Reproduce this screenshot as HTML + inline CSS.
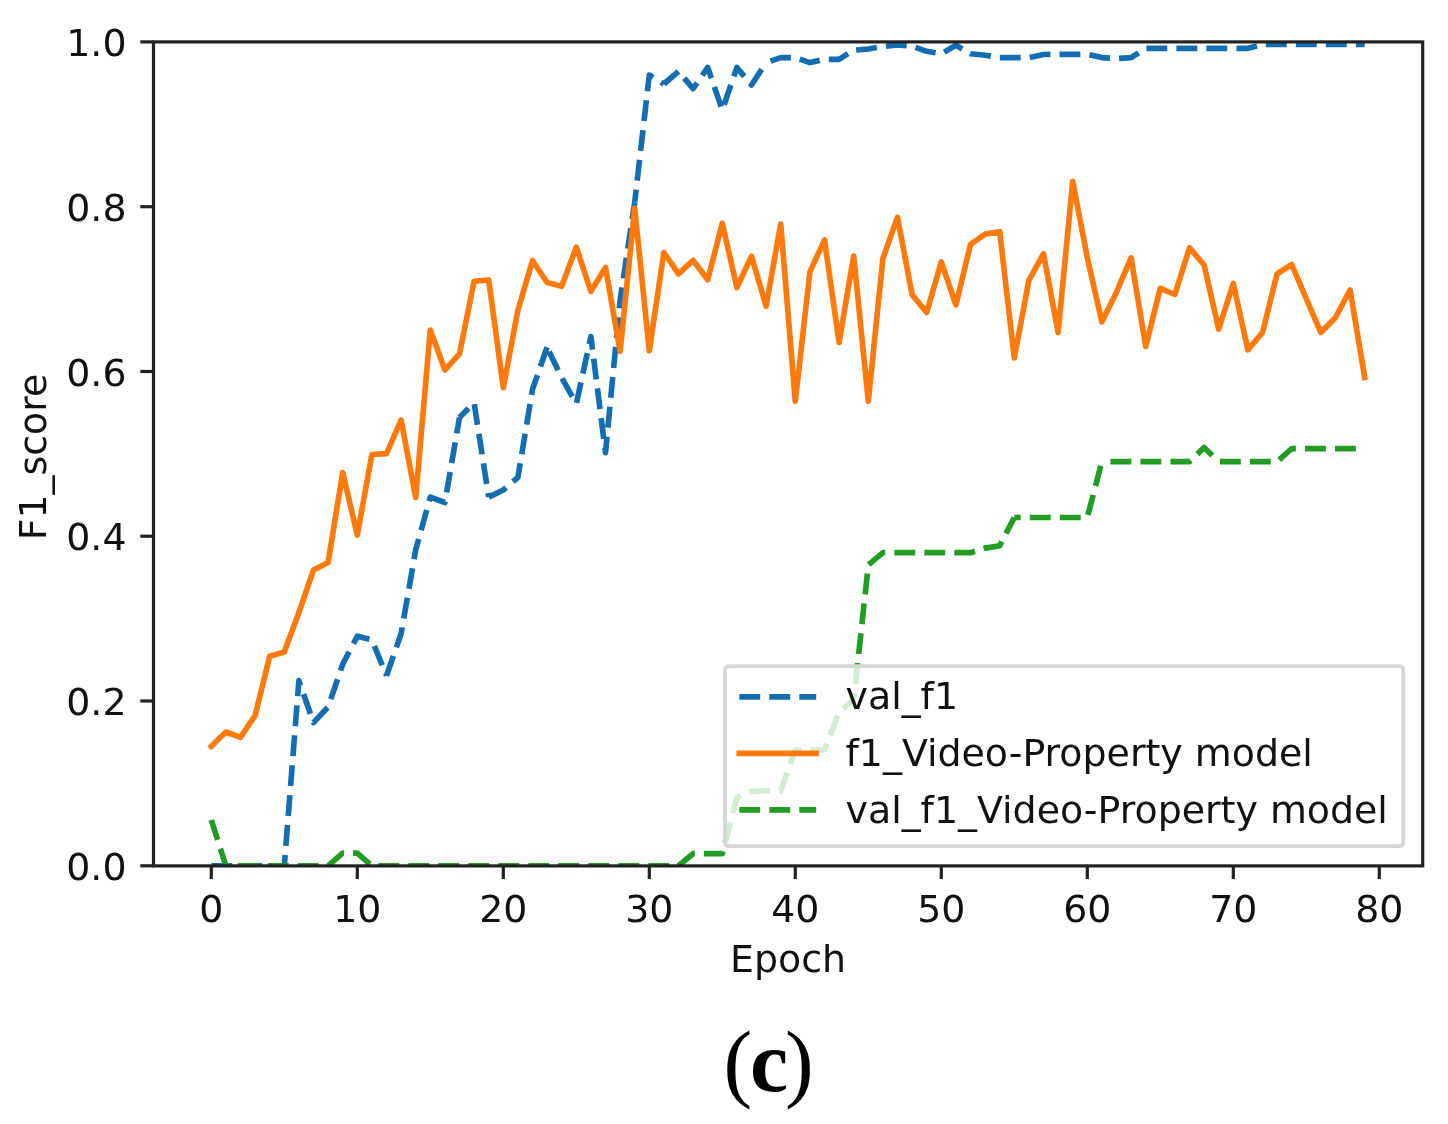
<!DOCTYPE html>
<html lang="en">
<head>
<meta charset="utf-8">
<title>F1 score vs Epoch (c)</title>
<style>
html,body{margin:0;padding:0;background:#fff;}
body{width:1448px;height:1124px;overflow:hidden;}
svg{display:block;}
text{font-family:"DejaVu Sans","Liberation Sans",sans-serif;fill:#111;}
.cap{fill:#000;font-family:"Liberation Serif","DejaVu Serif",serif;font-weight:bold;}
</style>
</head>
<body>
<svg width="1448" height="1124" viewBox="0 0 1448 1124">
<rect x="0" y="0" width="1448" height="1124" fill="#ffffff"/>
<defs><clipPath id="ax"><rect x="153.5" y="41.9" width="1269.2" height="824.0"/></clipPath></defs>

<g clip-path="url(#ax)" fill="none" stroke-width="5.66" stroke-linejoin="round">
<polyline stroke="#146db1" stroke-dasharray="20.9 9.1" stroke-dashoffset="0.0" points="211.3,865.8 225.9,865.8 240.5,865.8 255.1,865.8 269.7,865.8 284.3,865.8"/>
<polyline stroke="#146db1" stroke-dasharray="20.9 9.1" stroke-dashoffset="10.0" points="284.3,865.8 298.9,680.6 313.5,722.6 328.1,707.0 342.7,664.2 357.3,636.2 371.9,639.9 386.5,675.7"/>
<polyline stroke="#146db1" stroke-dasharray="20.9 9.1" stroke-dashoffset="0.0" points="386.5,675.7 401.1,633.7 415.7,549.8 430.3,497.1 444.9,502.5 459.5,417.5"/>
<polyline stroke="#146db1" stroke-dasharray="20.9 9.1" stroke-dashoffset="8.0" points="459.5,417.5 474.1,402.8 488.7,497.1"/>
<polyline stroke="#146db1" stroke-dasharray="20.9 9.1" stroke-dashoffset="1.0" points="488.7,497.1 503.3,490.0 517.9,477.4 532.5,389.3 547.1,347.3"/>
<polyline stroke="#146db1" stroke-dasharray="20.9 9.1" stroke-dashoffset="25.4" points="547.1,347.3 561.7,377.8 576.3,403.8 590.9,336.6 605.5,452.7 620.1,300.4 634.7,202.5"/>
<polyline stroke="#146db1" stroke-dasharray="20.9 9.1" stroke-dashoffset="8.0" points="634.7,202.5 649.3,75.0 663.9,84.0"/>
<polyline stroke="#146db1" stroke-dasharray="20.9 9.1" stroke-dashoffset="1.6" points="663.9,84.0 678.5,71.2 693.1,88.7 707.7,67.5 722.3,110.0 736.9,67.5 751.5,85.0 766.1,62.6"/>
<polyline stroke="#146db1" stroke-dasharray="20.9 9.1" stroke-dashoffset="25.3" points="766.1,62.6 780.7,57.6 795.3,57.6 809.9,62.6 824.5,59.3 839.1,59.3 853.7,50.2 868.3,49.0 882.9,46.5 897.5,45.0 912.1,46.1 926.7,51.3 941.3,53.8 955.9,45.3 970.5,53.8 985.1,55.2 999.7,57.6 1014.3,57.6 1028.9,57.6 1043.5,54.5 1058.1,54.3 1072.7,54.3 1087.3,54.3 1101.9,57.6 1116.5,58.5 1131.1,57.6 1145.7,48.3 1160.3,48.3 1174.9,48.3 1189.5,48.3 1204.1,48.3 1218.7,48.3 1233.3,48.3 1247.9,48.3 1262.5,44.5 1277.1,44.5 1291.7,44.5 1306.3,44.5 1320.9,44.5 1335.5,44.5 1350.1,44.5 1364.7,44.5"/>
<polyline stroke="#ff790b" stroke-linecap="square" points="211.3,746.2 225.9,732.0 240.5,737.4 255.1,715.5 269.7,656.3 284.3,652.0 298.9,612.5 313.5,570.0 328.1,562.5 342.7,472.5 357.3,535.0 371.9,454.5 386.5,453.7 401.1,420.0 415.7,497.5 430.3,330.0 444.9,370.0 459.5,353.9 474.1,281.2 488.7,280.0 503.3,387.7 517.9,310.3 532.5,260.5 547.1,282.5 561.7,286.3 576.3,247.2 590.9,291.4 605.5,267.5 620.1,351.3 634.7,208.2 649.3,350.6 663.9,252.5 678.5,273.8 693.1,260.3 707.7,279.7 722.3,223.3 736.9,287.5 751.5,256.2 766.1,306.2 780.7,224.1 795.3,401.2 809.9,271.9 824.5,240.0 839.1,342.5 853.7,256.0 868.3,401.2 882.9,258.4 897.5,217.3 912.1,294.7 926.7,312.4 941.3,262.0 955.9,304.9 970.5,244.5 985.1,234.1 999.7,231.7 1014.3,358.0 1028.9,280.3 1043.5,253.8 1058.1,332.5 1072.7,181.3 1087.3,257.6 1101.9,321.8 1116.5,292.2 1131.1,257.9 1145.7,346.5 1160.3,288.3 1174.9,294.5 1189.5,247.8 1204.1,265.0 1218.7,329.2 1233.3,283.5 1247.9,349.8 1262.5,332.5 1277.1,273.8 1291.7,264.5 1306.3,298.8 1320.9,332.5 1335.5,317.5 1350.1,290.0 1364.7,377.5"/>
<polyline stroke="#229c22" stroke-dasharray="20.9 9.1" stroke-dashoffset="0.0" points="211.3,820.0 225.9,865.8 240.5,865.8 255.1,865.8 269.7,865.8 284.3,865.8 298.9,865.8 313.5,865.8 328.1,865.8 342.7,853.1 357.3,853.1 371.9,865.8 386.5,865.8 401.1,865.8 415.7,865.8 430.3,865.8 444.9,865.8 459.5,865.8 474.1,865.8 488.7,865.8 503.3,865.8 517.9,865.8 532.5,865.8 547.1,865.8 561.7,865.8 576.3,865.8 590.9,865.8 605.5,865.8 620.1,865.8 634.7,865.8 649.3,865.8 663.9,865.8 678.5,865.8 693.1,853.7 707.7,853.7 722.3,853.7 736.9,797.5 751.5,791.3 766.1,790.9 780.7,790.9 795.3,750.0 809.9,750.0 824.5,750.0 839.1,711.9 853.7,700.0 868.3,565.0 882.9,552.7 897.5,552.7 912.1,552.7 926.7,552.7 941.3,552.7 955.9,552.7 970.5,552.7 985.1,548.1 999.7,545.7 1014.3,517.5"/>
<polyline stroke="#229c22" stroke-dasharray="20.9 9.1" stroke-dashoffset="14.5" points="1014.3,517.5 1028.9,517.5 1043.5,517.5 1058.1,517.5 1072.7,517.5 1087.3,517.5 1101.9,461.7"/>
<polyline stroke="#229c22" stroke-dasharray="20.9 9.1" stroke-dashoffset="21.5" points="1101.9,461.7 1116.5,461.7 1131.1,461.7 1145.7,461.7 1160.3,461.7 1174.9,461.7 1189.5,461.7 1204.1,447.5 1218.7,461.7"/>
<polyline stroke="#229c22" stroke-dasharray="20.9 9.1" stroke-dashoffset="28.8" points="1218.7,461.7 1233.3,461.7 1247.9,461.7 1262.5,461.7 1277.1,461.7 1291.7,448.7 1306.3,448.7 1320.9,448.7 1335.5,448.7 1350.1,448.7 1364.7,448.7"/>
</g>
<rect x="725" y="666.1" width="678.3" height="180.1" rx="3.6" ry="3.6" fill="#ffffff" fill-opacity="0.8" stroke="#d7d7d7" stroke-width="3.8"/>
<g fill="none" stroke-width="5.66">
<line x1="739.3" x2="816.2" y1="696.9" y2="696.9" stroke="#146db1" stroke-dasharray="20.9 9.1"/>
<line x1="739.3" x2="816.2" y1="753.3" y2="753.3" stroke="#ff790b" stroke-linecap="square"/>
<line x1="739.3" x2="816.2" y1="809.9" y2="809.9" stroke="#229c22" stroke-dasharray="20.9 9.1"/>
</g>
<g font-size="37.90">
<text x="845.5" y="709.3">val_f1</text>
<text x="845.5" y="766.2">f1_Video-Property model</text>
<text x="845.5" y="823.1">val_f1_Video-Property model</text>
</g>
<g stroke="#222" stroke-width="3.2" fill="none">
<rect x="153.5" y="41.9" width="1269.2" height="824.0"/>
<line x1="211.3" x2="211.3" y1="865.9" y2="879.1"/>
<line x1="357.3" x2="357.3" y1="865.9" y2="879.1"/>
<line x1="503.3" x2="503.3" y1="865.9" y2="879.1"/>
<line x1="649.3" x2="649.3" y1="865.9" y2="879.1"/>
<line x1="795.3" x2="795.3" y1="865.9" y2="879.1"/>
<line x1="941.3" x2="941.3" y1="865.9" y2="879.1"/>
<line x1="1087.3" x2="1087.3" y1="865.9" y2="879.1"/>
<line x1="1233.3" x2="1233.3" y1="865.9" y2="879.1"/>
<line x1="1379.3" x2="1379.3" y1="865.9" y2="879.1"/>
<line x1="140.3" x2="153.5" y1="865.8" y2="865.8"/>
<line x1="140.3" x2="153.5" y1="701.0" y2="701.0"/>
<line x1="140.3" x2="153.5" y1="536.2" y2="536.2"/>
<line x1="140.3" x2="153.5" y1="371.5" y2="371.5"/>
<line x1="140.3" x2="153.5" y1="206.7" y2="206.7"/>
<line x1="140.3" x2="153.5" y1="41.9" y2="41.9"/>
</g>
<g font-size="37.90" text-anchor="middle">
<text x="211.3" y="921.6">0</text>
<text x="357.3" y="921.6">10</text>
<text x="503.3" y="921.6">20</text>
<text x="649.3" y="921.6">30</text>
<text x="795.3" y="921.6">40</text>
<text x="941.3" y="921.6">50</text>
<text x="1087.3" y="921.6">60</text>
<text x="1233.3" y="921.6">70</text>
<text x="1379.3" y="921.6">80</text>
<text x="788" y="972.4">Epoch</text>
</g>
<g font-size="37.90" text-anchor="end">
<text x="126.5" y="880.0">0.0</text>
<text x="126.5" y="715.2">0.2</text>
<text x="126.5" y="550.4">0.4</text>
<text x="126.5" y="385.7">0.6</text>
<text x="126.5" y="220.9">0.8</text>
<text x="126.5" y="56.1">1.0</text>
</g>
<text font-size="37.90" text-anchor="middle" transform="translate(46.2,457) rotate(-90)">F1_score</text>
<text class="cap" font-size="86" y="1091"><tspan x="723.5" font-weight="normal">(</tspan><tspan x="750">c</tspan><tspan x="785" font-weight="normal">)</tspan></text>
</svg>
</body>
</html>
